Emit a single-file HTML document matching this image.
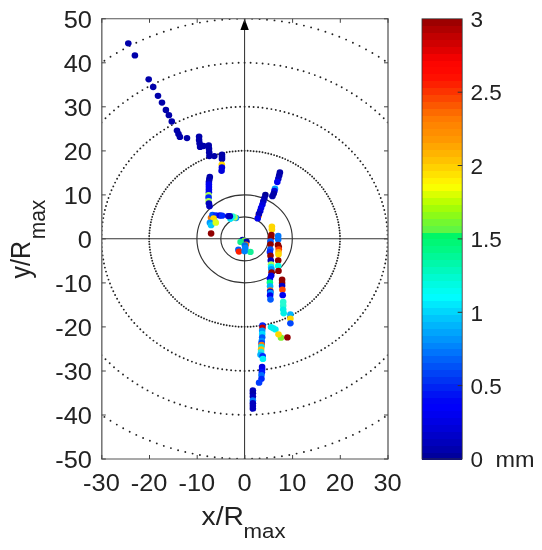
<!DOCTYPE html>
<html><head><meta charset="utf-8"><title>plot</title>
<style>html,body{margin:0;padding:0;background:#fff}svg{display:block}text{font-family:"Liberation Sans",sans-serif;fill:#222}</style></head><body>
<svg width="542" height="550" viewBox="0 0 542 550">
<rect width="542" height="550" fill="#fff"/>
<defs><clipPath id="c"><rect x="101.8" y="18.8" width="286.2" height="440.2"/></clipPath></defs>
<g clip-path="url(#c)" fill="#222">
<circle cx="340.0" cy="238.8" r="0.95"/>
<circle cx="340.0" cy="236.0" r="0.95"/>
<circle cx="339.8" cy="233.3" r="0.95"/>
<circle cx="339.6" cy="230.5" r="0.95"/>
<circle cx="339.2" cy="227.8" r="0.95"/>
<circle cx="338.8" cy="225.0" r="0.95"/>
<circle cx="338.3" cy="222.3" r="0.95"/>
<circle cx="337.7" cy="219.6" r="0.95"/>
<circle cx="337.0" cy="216.9" r="0.95"/>
<circle cx="336.2" cy="214.2" r="0.95"/>
<circle cx="335.3" cy="211.6" r="0.95"/>
<circle cx="334.4" cy="209.0" r="0.95"/>
<circle cx="333.3" cy="206.4" r="0.95"/>
<circle cx="332.2" cy="203.8" r="0.95"/>
<circle cx="330.9" cy="201.3" r="0.95"/>
<circle cx="329.6" cy="198.8" r="0.95"/>
<circle cx="328.2" cy="196.4" r="0.95"/>
<circle cx="326.7" cy="194.0" r="0.95"/>
<circle cx="325.1" cy="191.6" r="0.95"/>
<circle cx="323.5" cy="189.3" r="0.95"/>
<circle cx="321.8" cy="187.1" r="0.95"/>
<circle cx="320.0" cy="184.8" r="0.95"/>
<circle cx="318.1" cy="182.7" r="0.95"/>
<circle cx="316.2" cy="180.6" r="0.95"/>
<circle cx="314.1" cy="178.5" r="0.95"/>
<circle cx="312.1" cy="176.5" r="0.95"/>
<circle cx="309.9" cy="174.6" r="0.95"/>
<circle cx="307.7" cy="172.8" r="0.95"/>
<circle cx="305.4" cy="171.0" r="0.95"/>
<circle cx="303.1" cy="169.2" r="0.95"/>
<circle cx="300.7" cy="167.6" r="0.95"/>
<circle cx="298.2" cy="166.0" r="0.95"/>
<circle cx="295.7" cy="164.5" r="0.95"/>
<circle cx="293.2" cy="163.0" r="0.95"/>
<circle cx="290.6" cy="161.6" r="0.95"/>
<circle cx="287.9" cy="160.4" r="0.95"/>
<circle cx="285.2" cy="159.1" r="0.95"/>
<circle cx="282.5" cy="158.0" r="0.95"/>
<circle cx="279.7" cy="156.9" r="0.95"/>
<circle cx="276.9" cy="156.0" r="0.95"/>
<circle cx="274.1" cy="155.1" r="0.95"/>
<circle cx="271.2" cy="154.3" r="0.95"/>
<circle cx="268.3" cy="153.5" r="0.95"/>
<circle cx="265.4" cy="152.9" r="0.95"/>
<circle cx="262.5" cy="152.3" r="0.95"/>
<circle cx="259.5" cy="151.8" r="0.95"/>
<circle cx="256.6" cy="151.5" r="0.95"/>
<circle cx="253.6" cy="151.2" r="0.95"/>
<circle cx="250.6" cy="150.9" r="0.95"/>
<circle cx="247.6" cy="150.8" r="0.95"/>
<circle cx="244.6" cy="150.8" r="0.95"/>
<circle cx="241.6" cy="150.8" r="0.95"/>
<circle cx="238.6" cy="150.9" r="0.95"/>
<circle cx="235.6" cy="151.2" r="0.95"/>
<circle cx="232.6" cy="151.5" r="0.95"/>
<circle cx="229.7" cy="151.8" r="0.95"/>
<circle cx="226.7" cy="152.3" r="0.95"/>
<circle cx="223.8" cy="152.9" r="0.95"/>
<circle cx="220.9" cy="153.5" r="0.95"/>
<circle cx="218.0" cy="154.3" r="0.95"/>
<circle cx="215.1" cy="155.1" r="0.95"/>
<circle cx="212.3" cy="156.0" r="0.95"/>
<circle cx="209.5" cy="156.9" r="0.95"/>
<circle cx="206.7" cy="158.0" r="0.95"/>
<circle cx="204.0" cy="159.1" r="0.95"/>
<circle cx="201.3" cy="160.4" r="0.95"/>
<circle cx="198.6" cy="161.6" r="0.95"/>
<circle cx="196.0" cy="163.0" r="0.95"/>
<circle cx="193.5" cy="164.5" r="0.95"/>
<circle cx="191.0" cy="166.0" r="0.95"/>
<circle cx="188.5" cy="167.6" r="0.95"/>
<circle cx="186.1" cy="169.2" r="0.95"/>
<circle cx="183.8" cy="171.0" r="0.95"/>
<circle cx="181.5" cy="172.8" r="0.95"/>
<circle cx="179.3" cy="174.6" r="0.95"/>
<circle cx="177.1" cy="176.5" r="0.95"/>
<circle cx="175.1" cy="178.5" r="0.95"/>
<circle cx="173.0" cy="180.6" r="0.95"/>
<circle cx="171.1" cy="182.7" r="0.95"/>
<circle cx="169.2" cy="184.8" r="0.95"/>
<circle cx="167.4" cy="187.1" r="0.95"/>
<circle cx="165.7" cy="189.3" r="0.95"/>
<circle cx="164.1" cy="191.6" r="0.95"/>
<circle cx="162.5" cy="194.0" r="0.95"/>
<circle cx="161.0" cy="196.4" r="0.95"/>
<circle cx="159.6" cy="198.8" r="0.95"/>
<circle cx="158.3" cy="201.3" r="0.95"/>
<circle cx="157.0" cy="203.8" r="0.95"/>
<circle cx="155.9" cy="206.4" r="0.95"/>
<circle cx="154.8" cy="209.0" r="0.95"/>
<circle cx="153.9" cy="211.6" r="0.95"/>
<circle cx="153.0" cy="214.2" r="0.95"/>
<circle cx="152.2" cy="216.9" r="0.95"/>
<circle cx="151.5" cy="219.6" r="0.95"/>
<circle cx="150.9" cy="222.3" r="0.95"/>
<circle cx="150.4" cy="225.0" r="0.95"/>
<circle cx="150.0" cy="227.8" r="0.95"/>
<circle cx="149.6" cy="230.5" r="0.95"/>
<circle cx="149.4" cy="233.3" r="0.95"/>
<circle cx="149.2" cy="236.0" r="0.95"/>
<circle cx="149.2" cy="238.8" r="0.95"/>
<circle cx="149.2" cy="241.6" r="0.95"/>
<circle cx="149.4" cy="244.3" r="0.95"/>
<circle cx="149.6" cy="247.1" r="0.95"/>
<circle cx="150.0" cy="249.8" r="0.95"/>
<circle cx="150.4" cy="252.6" r="0.95"/>
<circle cx="150.9" cy="255.3" r="0.95"/>
<circle cx="151.5" cy="258.0" r="0.95"/>
<circle cx="152.2" cy="260.7" r="0.95"/>
<circle cx="153.0" cy="263.4" r="0.95"/>
<circle cx="153.9" cy="266.0" r="0.95"/>
<circle cx="154.8" cy="268.6" r="0.95"/>
<circle cx="155.9" cy="271.2" r="0.95"/>
<circle cx="157.0" cy="273.8" r="0.95"/>
<circle cx="158.3" cy="276.3" r="0.95"/>
<circle cx="159.6" cy="278.8" r="0.95"/>
<circle cx="161.0" cy="281.2" r="0.95"/>
<circle cx="162.5" cy="283.6" r="0.95"/>
<circle cx="164.1" cy="286.0" r="0.95"/>
<circle cx="165.7" cy="288.3" r="0.95"/>
<circle cx="167.4" cy="290.5" r="0.95"/>
<circle cx="169.2" cy="292.8" r="0.95"/>
<circle cx="171.1" cy="294.9" r="0.95"/>
<circle cx="173.0" cy="297.0" r="0.95"/>
<circle cx="175.1" cy="299.1" r="0.95"/>
<circle cx="177.1" cy="301.1" r="0.95"/>
<circle cx="179.3" cy="303.0" r="0.95"/>
<circle cx="181.5" cy="304.8" r="0.95"/>
<circle cx="183.8" cy="306.6" r="0.95"/>
<circle cx="186.1" cy="308.4" r="0.95"/>
<circle cx="188.5" cy="310.0" r="0.95"/>
<circle cx="191.0" cy="311.6" r="0.95"/>
<circle cx="193.5" cy="313.1" r="0.95"/>
<circle cx="196.0" cy="314.6" r="0.95"/>
<circle cx="198.6" cy="316.0" r="0.95"/>
<circle cx="201.3" cy="317.2" r="0.95"/>
<circle cx="204.0" cy="318.5" r="0.95"/>
<circle cx="206.7" cy="319.6" r="0.95"/>
<circle cx="209.5" cy="320.7" r="0.95"/>
<circle cx="212.3" cy="321.6" r="0.95"/>
<circle cx="215.1" cy="322.5" r="0.95"/>
<circle cx="218.0" cy="323.3" r="0.95"/>
<circle cx="220.9" cy="324.1" r="0.95"/>
<circle cx="223.8" cy="324.7" r="0.95"/>
<circle cx="226.7" cy="325.3" r="0.95"/>
<circle cx="229.7" cy="325.8" r="0.95"/>
<circle cx="232.6" cy="326.1" r="0.95"/>
<circle cx="235.6" cy="326.4" r="0.95"/>
<circle cx="238.6" cy="326.7" r="0.95"/>
<circle cx="241.6" cy="326.8" r="0.95"/>
<circle cx="244.6" cy="326.8" r="0.95"/>
<circle cx="247.6" cy="326.8" r="0.95"/>
<circle cx="250.6" cy="326.7" r="0.95"/>
<circle cx="253.6" cy="326.4" r="0.95"/>
<circle cx="256.6" cy="326.1" r="0.95"/>
<circle cx="259.5" cy="325.8" r="0.95"/>
<circle cx="262.5" cy="325.3" r="0.95"/>
<circle cx="265.4" cy="324.7" r="0.95"/>
<circle cx="268.3" cy="324.1" r="0.95"/>
<circle cx="271.2" cy="323.3" r="0.95"/>
<circle cx="274.1" cy="322.5" r="0.95"/>
<circle cx="276.9" cy="321.6" r="0.95"/>
<circle cx="279.7" cy="320.7" r="0.95"/>
<circle cx="282.5" cy="319.6" r="0.95"/>
<circle cx="285.2" cy="318.5" r="0.95"/>
<circle cx="287.9" cy="317.2" r="0.95"/>
<circle cx="290.6" cy="316.0" r="0.95"/>
<circle cx="293.2" cy="314.6" r="0.95"/>
<circle cx="295.7" cy="313.1" r="0.95"/>
<circle cx="298.2" cy="311.6" r="0.95"/>
<circle cx="300.7" cy="310.0" r="0.95"/>
<circle cx="303.1" cy="308.4" r="0.95"/>
<circle cx="305.4" cy="306.6" r="0.95"/>
<circle cx="307.7" cy="304.8" r="0.95"/>
<circle cx="309.9" cy="303.0" r="0.95"/>
<circle cx="312.1" cy="301.1" r="0.95"/>
<circle cx="314.1" cy="299.1" r="0.95"/>
<circle cx="316.2" cy="297.0" r="0.95"/>
<circle cx="318.1" cy="294.9" r="0.95"/>
<circle cx="320.0" cy="292.8" r="0.95"/>
<circle cx="321.8" cy="290.5" r="0.95"/>
<circle cx="323.5" cy="288.3" r="0.95"/>
<circle cx="325.1" cy="286.0" r="0.95"/>
<circle cx="326.7" cy="283.6" r="0.95"/>
<circle cx="328.2" cy="281.2" r="0.95"/>
<circle cx="329.6" cy="278.8" r="0.95"/>
<circle cx="330.9" cy="276.3" r="0.95"/>
<circle cx="332.2" cy="273.8" r="0.95"/>
<circle cx="333.3" cy="271.2" r="0.95"/>
<circle cx="334.4" cy="268.6" r="0.95"/>
<circle cx="335.3" cy="266.0" r="0.95"/>
<circle cx="336.2" cy="263.4" r="0.95"/>
<circle cx="337.0" cy="260.7" r="0.95"/>
<circle cx="337.7" cy="258.0" r="0.95"/>
<circle cx="338.3" cy="255.3" r="0.95"/>
<circle cx="338.8" cy="252.6" r="0.95"/>
<circle cx="339.2" cy="249.8" r="0.95"/>
<circle cx="339.6" cy="247.1" r="0.95"/>
<circle cx="339.8" cy="244.3" r="0.95"/>
<circle cx="340.0" cy="241.6" r="0.95"/>
<circle cx="387.7" cy="238.8" r="0.95"/>
<circle cx="387.6" cy="234.7" r="0.95"/>
<circle cx="387.4" cy="230.5" r="0.95"/>
<circle cx="387.1" cy="226.4" r="0.95"/>
<circle cx="386.6" cy="222.2" r="0.95"/>
<circle cx="385.9" cy="218.1" r="0.95"/>
<circle cx="385.2" cy="214.1" r="0.95"/>
<circle cx="384.3" cy="210.0" r="0.95"/>
<circle cx="383.2" cy="206.0" r="0.95"/>
<circle cx="382.0" cy="202.0" r="0.95"/>
<circle cx="380.7" cy="198.0" r="0.95"/>
<circle cx="379.2" cy="194.1" r="0.95"/>
<circle cx="377.7" cy="190.2" r="0.95"/>
<circle cx="375.9" cy="186.4" r="0.95"/>
<circle cx="374.1" cy="182.6" r="0.95"/>
<circle cx="372.1" cy="178.8" r="0.95"/>
<circle cx="370.0" cy="175.2" r="0.95"/>
<circle cx="367.8" cy="171.6" r="0.95"/>
<circle cx="365.4" cy="168.0" r="0.95"/>
<circle cx="363.0" cy="164.6" r="0.95"/>
<circle cx="360.4" cy="161.2" r="0.95"/>
<circle cx="357.7" cy="157.9" r="0.95"/>
<circle cx="354.9" cy="154.6" r="0.95"/>
<circle cx="351.9" cy="151.5" r="0.95"/>
<circle cx="348.9" cy="148.4" r="0.95"/>
<circle cx="345.8" cy="145.4" r="0.95"/>
<circle cx="342.6" cy="142.5" r="0.95"/>
<circle cx="339.2" cy="139.7" r="0.95"/>
<circle cx="335.8" cy="137.0" r="0.95"/>
<circle cx="332.3" cy="134.5" r="0.95"/>
<circle cx="328.7" cy="132.0" r="0.95"/>
<circle cx="325.0" cy="129.6" r="0.95"/>
<circle cx="321.3" cy="127.3" r="0.95"/>
<circle cx="317.4" cy="125.1" r="0.95"/>
<circle cx="313.5" cy="123.1" r="0.95"/>
<circle cx="309.6" cy="121.1" r="0.95"/>
<circle cx="305.5" cy="119.3" r="0.95"/>
<circle cx="301.4" cy="117.6" r="0.95"/>
<circle cx="297.3" cy="116.0" r="0.95"/>
<circle cx="293.1" cy="114.5" r="0.95"/>
<circle cx="288.8" cy="113.2" r="0.95"/>
<circle cx="284.5" cy="112.0" r="0.95"/>
<circle cx="280.2" cy="110.9" r="0.95"/>
<circle cx="275.8" cy="109.9" r="0.95"/>
<circle cx="271.4" cy="109.1" r="0.95"/>
<circle cx="267.0" cy="108.4" r="0.95"/>
<circle cx="262.5" cy="107.8" r="0.95"/>
<circle cx="258.1" cy="107.3" r="0.95"/>
<circle cx="253.6" cy="107.0" r="0.95"/>
<circle cx="249.1" cy="106.8" r="0.95"/>
<circle cx="244.6" cy="106.7" r="0.95"/>
<circle cx="240.1" cy="106.8" r="0.95"/>
<circle cx="235.6" cy="107.0" r="0.95"/>
<circle cx="231.1" cy="107.3" r="0.95"/>
<circle cx="226.7" cy="107.8" r="0.95"/>
<circle cx="222.2" cy="108.4" r="0.95"/>
<circle cx="217.8" cy="109.1" r="0.95"/>
<circle cx="213.4" cy="109.9" r="0.95"/>
<circle cx="209.0" cy="110.9" r="0.95"/>
<circle cx="204.7" cy="112.0" r="0.95"/>
<circle cx="200.4" cy="113.2" r="0.95"/>
<circle cx="196.1" cy="114.5" r="0.95"/>
<circle cx="191.9" cy="116.0" r="0.95"/>
<circle cx="187.8" cy="117.6" r="0.95"/>
<circle cx="183.7" cy="119.3" r="0.95"/>
<circle cx="179.6" cy="121.1" r="0.95"/>
<circle cx="175.7" cy="123.1" r="0.95"/>
<circle cx="171.8" cy="125.1" r="0.95"/>
<circle cx="167.9" cy="127.3" r="0.95"/>
<circle cx="164.2" cy="129.6" r="0.95"/>
<circle cx="160.5" cy="132.0" r="0.95"/>
<circle cx="156.9" cy="134.5" r="0.95"/>
<circle cx="153.4" cy="137.0" r="0.95"/>
<circle cx="150.0" cy="139.7" r="0.95"/>
<circle cx="146.6" cy="142.5" r="0.95"/>
<circle cx="143.4" cy="145.4" r="0.95"/>
<circle cx="140.3" cy="148.4" r="0.95"/>
<circle cx="137.3" cy="151.5" r="0.95"/>
<circle cx="134.3" cy="154.6" r="0.95"/>
<circle cx="131.5" cy="157.9" r="0.95"/>
<circle cx="128.8" cy="161.2" r="0.95"/>
<circle cx="126.2" cy="164.6" r="0.95"/>
<circle cx="123.8" cy="168.0" r="0.95"/>
<circle cx="121.4" cy="171.6" r="0.95"/>
<circle cx="119.2" cy="175.2" r="0.95"/>
<circle cx="117.1" cy="178.8" r="0.95"/>
<circle cx="115.1" cy="182.6" r="0.95"/>
<circle cx="113.3" cy="186.4" r="0.95"/>
<circle cx="111.5" cy="190.2" r="0.95"/>
<circle cx="110.0" cy="194.1" r="0.95"/>
<circle cx="108.5" cy="198.0" r="0.95"/>
<circle cx="107.2" cy="202.0" r="0.95"/>
<circle cx="106.0" cy="206.0" r="0.95"/>
<circle cx="104.9" cy="210.0" r="0.95"/>
<circle cx="104.0" cy="214.1" r="0.95"/>
<circle cx="103.3" cy="218.1" r="0.95"/>
<circle cx="102.6" cy="222.2" r="0.95"/>
<circle cx="102.1" cy="226.4" r="0.95"/>
<circle cx="101.8" cy="230.5" r="0.95"/>
<circle cx="101.6" cy="234.7" r="0.95"/>
<circle cx="101.5" cy="238.8" r="0.95"/>
<circle cx="101.6" cy="242.9" r="0.95"/>
<circle cx="101.8" cy="247.1" r="0.95"/>
<circle cx="102.1" cy="251.2" r="0.95"/>
<circle cx="102.6" cy="255.4" r="0.95"/>
<circle cx="103.3" cy="259.5" r="0.95"/>
<circle cx="104.0" cy="263.5" r="0.95"/>
<circle cx="104.9" cy="267.6" r="0.95"/>
<circle cx="106.0" cy="271.6" r="0.95"/>
<circle cx="107.2" cy="275.6" r="0.95"/>
<circle cx="108.5" cy="279.6" r="0.95"/>
<circle cx="110.0" cy="283.5" r="0.95"/>
<circle cx="111.5" cy="287.4" r="0.95"/>
<circle cx="113.3" cy="291.2" r="0.95"/>
<circle cx="115.1" cy="295.0" r="0.95"/>
<circle cx="117.1" cy="298.8" r="0.95"/>
<circle cx="119.2" cy="302.4" r="0.95"/>
<circle cx="121.4" cy="306.0" r="0.95"/>
<circle cx="123.8" cy="309.6" r="0.95"/>
<circle cx="126.2" cy="313.0" r="0.95"/>
<circle cx="128.8" cy="316.4" r="0.95"/>
<circle cx="131.5" cy="319.7" r="0.95"/>
<circle cx="134.3" cy="323.0" r="0.95"/>
<circle cx="137.3" cy="326.1" r="0.95"/>
<circle cx="140.3" cy="329.2" r="0.95"/>
<circle cx="143.4" cy="332.2" r="0.95"/>
<circle cx="146.6" cy="335.1" r="0.95"/>
<circle cx="150.0" cy="337.9" r="0.95"/>
<circle cx="153.4" cy="340.6" r="0.95"/>
<circle cx="156.9" cy="343.1" r="0.95"/>
<circle cx="160.5" cy="345.6" r="0.95"/>
<circle cx="164.2" cy="348.0" r="0.95"/>
<circle cx="167.9" cy="350.3" r="0.95"/>
<circle cx="171.8" cy="352.5" r="0.95"/>
<circle cx="175.7" cy="354.5" r="0.95"/>
<circle cx="179.6" cy="356.5" r="0.95"/>
<circle cx="183.7" cy="358.3" r="0.95"/>
<circle cx="187.8" cy="360.0" r="0.95"/>
<circle cx="191.9" cy="361.6" r="0.95"/>
<circle cx="196.1" cy="363.1" r="0.95"/>
<circle cx="200.4" cy="364.4" r="0.95"/>
<circle cx="204.7" cy="365.6" r="0.95"/>
<circle cx="209.0" cy="366.7" r="0.95"/>
<circle cx="213.4" cy="367.7" r="0.95"/>
<circle cx="217.8" cy="368.5" r="0.95"/>
<circle cx="222.2" cy="369.2" r="0.95"/>
<circle cx="226.7" cy="369.8" r="0.95"/>
<circle cx="231.1" cy="370.3" r="0.95"/>
<circle cx="235.6" cy="370.6" r="0.95"/>
<circle cx="240.1" cy="370.8" r="0.95"/>
<circle cx="244.6" cy="370.9" r="0.95"/>
<circle cx="249.1" cy="370.8" r="0.95"/>
<circle cx="253.6" cy="370.6" r="0.95"/>
<circle cx="258.1" cy="370.3" r="0.95"/>
<circle cx="262.5" cy="369.8" r="0.95"/>
<circle cx="267.0" cy="369.2" r="0.95"/>
<circle cx="271.4" cy="368.5" r="0.95"/>
<circle cx="275.8" cy="367.7" r="0.95"/>
<circle cx="280.2" cy="366.7" r="0.95"/>
<circle cx="284.5" cy="365.6" r="0.95"/>
<circle cx="288.8" cy="364.4" r="0.95"/>
<circle cx="293.1" cy="363.1" r="0.95"/>
<circle cx="297.3" cy="361.6" r="0.95"/>
<circle cx="301.4" cy="360.0" r="0.95"/>
<circle cx="305.5" cy="358.3" r="0.95"/>
<circle cx="309.6" cy="356.5" r="0.95"/>
<circle cx="313.5" cy="354.5" r="0.95"/>
<circle cx="317.4" cy="352.5" r="0.95"/>
<circle cx="321.3" cy="350.3" r="0.95"/>
<circle cx="325.0" cy="348.0" r="0.95"/>
<circle cx="328.7" cy="345.6" r="0.95"/>
<circle cx="332.3" cy="343.1" r="0.95"/>
<circle cx="335.8" cy="340.6" r="0.95"/>
<circle cx="339.2" cy="337.9" r="0.95"/>
<circle cx="342.6" cy="335.1" r="0.95"/>
<circle cx="345.8" cy="332.2" r="0.95"/>
<circle cx="348.9" cy="329.2" r="0.95"/>
<circle cx="351.9" cy="326.1" r="0.95"/>
<circle cx="354.9" cy="323.0" r="0.95"/>
<circle cx="357.7" cy="319.7" r="0.95"/>
<circle cx="360.4" cy="316.4" r="0.95"/>
<circle cx="363.0" cy="313.0" r="0.95"/>
<circle cx="365.4" cy="309.6" r="0.95"/>
<circle cx="367.8" cy="306.0" r="0.95"/>
<circle cx="370.0" cy="302.4" r="0.95"/>
<circle cx="372.1" cy="298.8" r="0.95"/>
<circle cx="374.1" cy="295.0" r="0.95"/>
<circle cx="375.9" cy="291.2" r="0.95"/>
<circle cx="377.7" cy="287.4" r="0.95"/>
<circle cx="379.2" cy="283.5" r="0.95"/>
<circle cx="380.7" cy="279.6" r="0.95"/>
<circle cx="382.0" cy="275.6" r="0.95"/>
<circle cx="383.2" cy="271.6" r="0.95"/>
<circle cx="384.3" cy="267.6" r="0.95"/>
<circle cx="385.2" cy="263.5" r="0.95"/>
<circle cx="385.9" cy="259.5" r="0.95"/>
<circle cx="386.6" cy="255.4" r="0.95"/>
<circle cx="387.1" cy="251.2" r="0.95"/>
<circle cx="387.4" cy="247.1" r="0.95"/>
<circle cx="387.6" cy="242.9" r="0.95"/>
<circle cx="387.7" cy="122.4" r="0.95"/>
<circle cx="383.7" cy="118.3" r="0.95"/>
<circle cx="379.5" cy="114.3" r="0.95"/>
<circle cx="375.2" cy="110.4" r="0.95"/>
<circle cx="370.8" cy="106.7" r="0.95"/>
<circle cx="366.2" cy="103.1" r="0.95"/>
<circle cx="361.5" cy="99.7" r="0.95"/>
<circle cx="356.7" cy="96.3" r="0.95"/>
<circle cx="351.8" cy="93.2" r="0.95"/>
<circle cx="346.8" cy="90.1" r="0.95"/>
<circle cx="341.7" cy="87.2" r="0.95"/>
<circle cx="336.5" cy="84.5" r="0.95"/>
<circle cx="331.2" cy="81.9" r="0.95"/>
<circle cx="325.8" cy="79.5" r="0.95"/>
<circle cx="320.4" cy="77.2" r="0.95"/>
<circle cx="314.8" cy="75.1" r="0.95"/>
<circle cx="309.2" cy="73.1" r="0.95"/>
<circle cx="303.6" cy="71.3" r="0.95"/>
<circle cx="297.8" cy="69.7" r="0.95"/>
<circle cx="292.1" cy="68.3" r="0.95"/>
<circle cx="286.2" cy="67.0" r="0.95"/>
<circle cx="280.4" cy="65.8" r="0.95"/>
<circle cx="274.4" cy="64.9" r="0.95"/>
<circle cx="268.5" cy="64.1" r="0.95"/>
<circle cx="262.6" cy="63.5" r="0.95"/>
<circle cx="256.6" cy="63.1" r="0.95"/>
<circle cx="250.6" cy="62.8" r="0.95"/>
<circle cx="244.6" cy="62.7" r="0.95"/>
<circle cx="238.6" cy="62.8" r="0.95"/>
<circle cx="232.6" cy="63.1" r="0.95"/>
<circle cx="226.6" cy="63.5" r="0.95"/>
<circle cx="220.7" cy="64.1" r="0.95"/>
<circle cx="214.8" cy="64.9" r="0.95"/>
<circle cx="208.8" cy="65.8" r="0.95"/>
<circle cx="203.0" cy="67.0" r="0.95"/>
<circle cx="197.1" cy="68.3" r="0.95"/>
<circle cx="191.4" cy="69.7" r="0.95"/>
<circle cx="185.6" cy="71.3" r="0.95"/>
<circle cx="180.0" cy="73.1" r="0.95"/>
<circle cx="174.4" cy="75.1" r="0.95"/>
<circle cx="168.8" cy="77.2" r="0.95"/>
<circle cx="163.4" cy="79.5" r="0.95"/>
<circle cx="158.0" cy="81.9" r="0.95"/>
<circle cx="152.7" cy="84.5" r="0.95"/>
<circle cx="147.5" cy="87.2" r="0.95"/>
<circle cx="142.4" cy="90.1" r="0.95"/>
<circle cx="137.4" cy="93.2" r="0.95"/>
<circle cx="132.5" cy="96.3" r="0.95"/>
<circle cx="127.7" cy="99.7" r="0.95"/>
<circle cx="123.0" cy="103.1" r="0.95"/>
<circle cx="118.4" cy="106.7" r="0.95"/>
<circle cx="114.0" cy="110.4" r="0.95"/>
<circle cx="109.7" cy="114.3" r="0.95"/>
<circle cx="105.5" cy="118.3" r="0.95"/>
<circle cx="101.5" cy="122.4" r="0.95"/>
<circle cx="101.5" cy="355.2" r="0.95"/>
<circle cx="105.5" cy="359.3" r="0.95"/>
<circle cx="109.7" cy="363.3" r="0.95"/>
<circle cx="114.0" cy="367.2" r="0.95"/>
<circle cx="118.4" cy="370.9" r="0.95"/>
<circle cx="123.0" cy="374.5" r="0.95"/>
<circle cx="127.7" cy="377.9" r="0.95"/>
<circle cx="132.5" cy="381.3" r="0.95"/>
<circle cx="137.4" cy="384.4" r="0.95"/>
<circle cx="142.4" cy="387.5" r="0.95"/>
<circle cx="147.5" cy="390.4" r="0.95"/>
<circle cx="152.7" cy="393.1" r="0.95"/>
<circle cx="158.0" cy="395.7" r="0.95"/>
<circle cx="163.4" cy="398.1" r="0.95"/>
<circle cx="168.8" cy="400.4" r="0.95"/>
<circle cx="174.4" cy="402.5" r="0.95"/>
<circle cx="180.0" cy="404.5" r="0.95"/>
<circle cx="185.6" cy="406.3" r="0.95"/>
<circle cx="191.4" cy="407.9" r="0.95"/>
<circle cx="197.1" cy="409.3" r="0.95"/>
<circle cx="203.0" cy="410.6" r="0.95"/>
<circle cx="208.8" cy="411.8" r="0.95"/>
<circle cx="214.8" cy="412.7" r="0.95"/>
<circle cx="220.7" cy="413.5" r="0.95"/>
<circle cx="226.6" cy="414.1" r="0.95"/>
<circle cx="232.6" cy="414.5" r="0.95"/>
<circle cx="238.6" cy="414.8" r="0.95"/>
<circle cx="244.6" cy="414.9" r="0.95"/>
<circle cx="250.6" cy="414.8" r="0.95"/>
<circle cx="256.6" cy="414.5" r="0.95"/>
<circle cx="262.6" cy="414.1" r="0.95"/>
<circle cx="268.5" cy="413.5" r="0.95"/>
<circle cx="274.4" cy="412.7" r="0.95"/>
<circle cx="280.4" cy="411.8" r="0.95"/>
<circle cx="286.2" cy="410.6" r="0.95"/>
<circle cx="292.1" cy="409.3" r="0.95"/>
<circle cx="297.8" cy="407.9" r="0.95"/>
<circle cx="303.6" cy="406.3" r="0.95"/>
<circle cx="309.2" cy="404.5" r="0.95"/>
<circle cx="314.8" cy="402.5" r="0.95"/>
<circle cx="320.4" cy="400.4" r="0.95"/>
<circle cx="325.8" cy="398.1" r="0.95"/>
<circle cx="331.2" cy="395.7" r="0.95"/>
<circle cx="336.5" cy="393.1" r="0.95"/>
<circle cx="341.7" cy="390.4" r="0.95"/>
<circle cx="346.8" cy="387.5" r="0.95"/>
<circle cx="351.8" cy="384.4" r="0.95"/>
<circle cx="356.7" cy="381.3" r="0.95"/>
<circle cx="361.5" cy="377.9" r="0.95"/>
<circle cx="366.2" cy="374.5" r="0.95"/>
<circle cx="370.8" cy="370.9" r="0.95"/>
<circle cx="375.2" cy="367.2" r="0.95"/>
<circle cx="379.5" cy="363.3" r="0.95"/>
<circle cx="383.7" cy="359.3" r="0.95"/>
<circle cx="387.7" cy="355.2" r="0.95"/>
<circle cx="384.8" cy="60.7" r="0.95"/>
<circle cx="378.7" cy="56.8" r="0.95"/>
<circle cx="372.4" cy="53.0" r="0.95"/>
<circle cx="366.0" cy="49.4" r="0.95"/>
<circle cx="359.5" cy="45.9" r="0.95"/>
<circle cx="352.9" cy="42.7" r="0.95"/>
<circle cx="346.1" cy="39.6" r="0.95"/>
<circle cx="339.3" cy="36.8" r="0.95"/>
<circle cx="332.4" cy="34.2" r="0.95"/>
<circle cx="325.4" cy="31.7" r="0.95"/>
<circle cx="318.3" cy="29.5" r="0.95"/>
<circle cx="311.1" cy="27.4" r="0.95"/>
<circle cx="303.9" cy="25.6" r="0.95"/>
<circle cx="296.6" cy="24.0" r="0.95"/>
<circle cx="289.3" cy="22.6" r="0.95"/>
<circle cx="281.9" cy="21.4" r="0.95"/>
<circle cx="274.5" cy="20.4" r="0.95"/>
<circle cx="267.0" cy="19.7" r="0.95"/>
<circle cx="259.6" cy="19.1" r="0.95"/>
<circle cx="252.1" cy="18.8" r="0.95"/>
<circle cx="244.6" cy="18.7" r="0.95"/>
<circle cx="237.1" cy="18.8" r="0.95"/>
<circle cx="229.6" cy="19.1" r="0.95"/>
<circle cx="222.2" cy="19.7" r="0.95"/>
<circle cx="214.7" cy="20.4" r="0.95"/>
<circle cx="207.3" cy="21.4" r="0.95"/>
<circle cx="199.9" cy="22.6" r="0.95"/>
<circle cx="192.6" cy="24.0" r="0.95"/>
<circle cx="185.3" cy="25.6" r="0.95"/>
<circle cx="178.1" cy="27.4" r="0.95"/>
<circle cx="170.9" cy="29.5" r="0.95"/>
<circle cx="163.8" cy="31.7" r="0.95"/>
<circle cx="156.8" cy="34.2" r="0.95"/>
<circle cx="149.9" cy="36.8" r="0.95"/>
<circle cx="143.1" cy="39.6" r="0.95"/>
<circle cx="136.3" cy="42.7" r="0.95"/>
<circle cx="129.7" cy="45.9" r="0.95"/>
<circle cx="123.2" cy="49.4" r="0.95"/>
<circle cx="116.8" cy="53.0" r="0.95"/>
<circle cx="110.5" cy="56.8" r="0.95"/>
<circle cx="104.4" cy="60.7" r="0.95"/>
<circle cx="104.4" cy="416.9" r="0.95"/>
<circle cx="110.5" cy="420.8" r="0.95"/>
<circle cx="116.8" cy="424.6" r="0.95"/>
<circle cx="123.2" cy="428.2" r="0.95"/>
<circle cx="129.7" cy="431.7" r="0.95"/>
<circle cx="136.3" cy="434.9" r="0.95"/>
<circle cx="143.1" cy="438.0" r="0.95"/>
<circle cx="149.9" cy="440.8" r="0.95"/>
<circle cx="156.8" cy="443.4" r="0.95"/>
<circle cx="163.8" cy="445.9" r="0.95"/>
<circle cx="170.9" cy="448.1" r="0.95"/>
<circle cx="178.1" cy="450.2" r="0.95"/>
<circle cx="185.3" cy="452.0" r="0.95"/>
<circle cx="192.6" cy="453.6" r="0.95"/>
<circle cx="199.9" cy="455.0" r="0.95"/>
<circle cx="207.3" cy="456.2" r="0.95"/>
<circle cx="214.7" cy="457.2" r="0.95"/>
<circle cx="222.2" cy="457.9" r="0.95"/>
<circle cx="229.6" cy="458.5" r="0.95"/>
<circle cx="237.1" cy="458.8" r="0.95"/>
<circle cx="244.6" cy="458.9" r="0.95"/>
<circle cx="252.1" cy="458.8" r="0.95"/>
<circle cx="259.6" cy="458.5" r="0.95"/>
<circle cx="267.0" cy="457.9" r="0.95"/>
<circle cx="274.5" cy="457.2" r="0.95"/>
<circle cx="281.9" cy="456.2" r="0.95"/>
<circle cx="289.3" cy="455.0" r="0.95"/>
<circle cx="296.6" cy="453.6" r="0.95"/>
<circle cx="303.9" cy="452.0" r="0.95"/>
<circle cx="311.1" cy="450.2" r="0.95"/>
<circle cx="318.3" cy="448.1" r="0.95"/>
<circle cx="325.4" cy="445.9" r="0.95"/>
<circle cx="332.4" cy="443.4" r="0.95"/>
<circle cx="339.3" cy="440.8" r="0.95"/>
<circle cx="346.1" cy="438.0" r="0.95"/>
<circle cx="352.9" cy="434.9" r="0.95"/>
<circle cx="359.5" cy="431.7" r="0.95"/>
<circle cx="366.0" cy="428.2" r="0.95"/>
<circle cx="372.4" cy="424.6" r="0.95"/>
<circle cx="378.7" cy="420.8" r="0.95"/>
<circle cx="384.8" cy="416.9" r="0.95"/>
</g>
<ellipse cx="244.6" cy="238.8" rx="23.8" ry="22.0" fill="none" stroke="#333" stroke-width="1.15"/>
<ellipse cx="244.6" cy="238.8" rx="47.7" ry="44.0" fill="none" stroke="#333" stroke-width="1.15"/>
<line x1="101.8" y1="238.8" x2="388.0" y2="238.8" stroke="#333" stroke-width="1.1"/>
<line x1="244.6" y1="26.8" x2="244.6" y2="459.0" stroke="#2a2a2a" stroke-width="1.0"/>
<polygon points="244.6,18.8 240.4,30 248.79999999999998,30" fill="#000"/>
<g>
<ellipse cx="128.3" cy="43.3" rx="3.3" ry="3.15" fill="rgb(0,0,170)"/>
<ellipse cx="134.9" cy="55.4" rx="3.3" ry="3.15" fill="rgb(0,0,170)"/>
<ellipse cx="148.7" cy="79.3" rx="3.3" ry="3.15" fill="rgb(0,0,170)"/>
<ellipse cx="153.2" cy="87.0" rx="3.3" ry="3.15" fill="rgb(0,0,170)"/>
<ellipse cx="158.0" cy="95.8" rx="3.3" ry="3.15" fill="rgb(0,0,170)"/>
<ellipse cx="162.0" cy="102.6" rx="3.3" ry="3.15" fill="rgb(0,0,170)"/>
<ellipse cx="165.9" cy="110.0" rx="3.3" ry="3.15" fill="rgb(0,0,170)"/>
<ellipse cx="168.9" cy="115.2" rx="3.3" ry="3.15" fill="rgb(0,0,170)"/>
<ellipse cx="171.8" cy="121.4" rx="3.3" ry="3.15" fill="rgb(0,0,170)"/>
<ellipse cx="177.0" cy="130.6" rx="3.3" ry="3.15" fill="rgb(0,0,170)"/>
<ellipse cx="178.5" cy="134.0" rx="3.3" ry="3.15" fill="rgb(0,0,170)"/>
<ellipse cx="179.9" cy="136.9" rx="3.3" ry="3.15" fill="rgb(0,0,170)"/>
<ellipse cx="187.0" cy="138.1" rx="3.3" ry="3.15" fill="rgb(0,0,170)"/>
<ellipse cx="199.1" cy="136.6" rx="3.3" ry="3.15" fill="rgb(0,0,170)"/>
<ellipse cx="199.1" cy="139.9" rx="3.3" ry="3.15" fill="rgb(0,0,170)"/>
<ellipse cx="199.6" cy="143.5" rx="3.3" ry="3.15" fill="rgb(0,0,170)"/>
<ellipse cx="200.1" cy="146.9" rx="3.3" ry="3.15" fill="rgb(0,0,170)"/>
<ellipse cx="203.5" cy="146.0" rx="3.3" ry="3.15" fill="rgb(0,0,170)"/>
<ellipse cx="208.7" cy="145.5" rx="3.3" ry="3.15" fill="rgb(0,0,170)"/>
<ellipse cx="209.0" cy="148.7" rx="3.3" ry="3.15" fill="rgb(0,0,170)"/>
<ellipse cx="209.2" cy="152.4" rx="3.3" ry="3.15" fill="rgb(0,0,170)"/>
<ellipse cx="209.4" cy="156.1" rx="3.3" ry="3.15" fill="rgb(0,0,170)"/>
<ellipse cx="214.3" cy="156.1" rx="3.3" ry="3.15" fill="rgb(0,0,170)"/>
<ellipse cx="222.0" cy="154.6" rx="3.3" ry="3.15" fill="rgb(0,0,170)"/>
<ellipse cx="222.0" cy="156.8" rx="3.3" ry="3.15" fill="rgb(0,0,170)"/>
<ellipse cx="222.0" cy="159.0" rx="3.3" ry="3.15" fill="rgb(0,0,170)"/>
<ellipse cx="221.8" cy="164.6" rx="3.3" ry="3.15" fill="rgb(255,215,0)"/>
<ellipse cx="221.9" cy="167.4" rx="3.3" ry="3.15" fill="rgb(0,0,220)"/>
<ellipse cx="221.6" cy="170.8" rx="3.3" ry="3.15" fill="rgb(0,0,220)"/>
<ellipse cx="209.8" cy="177.0" rx="3.3" ry="3.15" fill="rgb(0,0,170)"/>
<ellipse cx="209.3" cy="179.4" rx="3.3" ry="3.15" fill="rgb(0,0,170)"/>
<ellipse cx="208.9" cy="182.0" rx="3.3" ry="3.15" fill="rgb(0,0,190)"/>
<ellipse cx="208.9" cy="184.5" rx="3.3" ry="3.15" fill="rgb(0,0,240)"/>
<ellipse cx="208.9" cy="187.1" rx="3.3" ry="3.15" fill="rgb(0,0,240)"/>
<ellipse cx="208.9" cy="189.7" rx="3.3" ry="3.15" fill="rgb(0,0,240)"/>
<ellipse cx="208.9" cy="192.3" rx="3.3" ry="3.15" fill="rgb(0,0,240)"/>
<ellipse cx="208.6" cy="195.1" rx="3.3" ry="3.15" fill="rgb(170,255,80)"/>
<ellipse cx="208.6" cy="197.5" rx="3.3" ry="3.15" fill="rgb(0,40,255)"/>
<ellipse cx="208.6" cy="201.1" rx="3.3" ry="3.15" fill="rgb(170,255,80)"/>
<ellipse cx="208.9" cy="203.3" rx="3.3" ry="3.15" fill="rgb(0,0,190)"/>
<ellipse cx="209.5" cy="206.2" rx="3.3" ry="3.15" fill="rgb(0,0,190)"/>
<ellipse cx="211.0" cy="217.8" rx="3.3" ry="3.15" fill="rgb(255,120,0)"/>
<ellipse cx="212.5" cy="214.9" rx="3.3" ry="3.15" fill="rgb(0,90,255)"/>
<ellipse cx="216.0" cy="215.3" rx="3.3" ry="3.15" fill="rgb(0,40,255)"/>
<ellipse cx="219.9" cy="215.5" rx="3.3" ry="3.15" fill="rgb(0,0,240)"/>
<ellipse cx="222.1" cy="215.7" rx="3.3" ry="3.15" fill="rgb(0,40,255)"/>
<ellipse cx="236.0" cy="218.0" rx="3.3" ry="3.15" fill="rgb(0,150,255)"/>
<ellipse cx="234.6" cy="217.4" rx="3.3" ry="3.15" fill="rgb(170,255,80)"/>
<ellipse cx="232.6" cy="216.4" rx="3.3" ry="3.15" fill="rgb(40,250,210)"/>
<ellipse cx="230.4" cy="218.8" rx="3.3" ry="3.15" fill="rgb(0,230,255)"/>
<ellipse cx="228.2" cy="216.1" rx="3.3" ry="3.15" fill="rgb(0,0,220)"/>
<ellipse cx="229.8" cy="216.2" rx="3.3" ry="3.15" fill="rgb(0,0,190)"/>
<ellipse cx="214.4" cy="220.8" rx="3.3" ry="3.15" fill="rgb(40,250,210)"/>
<ellipse cx="213.6" cy="218.4" rx="3.3" ry="3.15" fill="rgb(255,215,0)"/>
<ellipse cx="209.9" cy="222.7" rx="3.3" ry="3.15" fill="rgb(0,150,255)"/>
<ellipse cx="211.1" cy="225.2" rx="3.3" ry="3.15" fill="rgb(0,200,255)"/>
<ellipse cx="215.8" cy="222.7" rx="3.3" ry="3.15" fill="rgb(220,255,30)"/>
<ellipse cx="211.1" cy="233.5" rx="3.3" ry="3.15" fill="rgb(145,0,0)"/>
<ellipse cx="242.6" cy="240.0" rx="3.3" ry="3.15" fill="rgb(0,0,170)"/>
<ellipse cx="244.4" cy="240.7" rx="3.3" ry="3.15" fill="rgb(120,225,70)"/>
<ellipse cx="246.5" cy="241.6" rx="3.3" ry="3.15" fill="rgb(0,0,170)"/>
<ellipse cx="245.9" cy="244.6" rx="3.3" ry="3.15" fill="rgb(255,120,0)"/>
<ellipse cx="240.6" cy="241.9" rx="3.3" ry="3.15" fill="rgb(20,240,140)"/>
<ellipse cx="244.9" cy="245.3" rx="3.3" ry="3.15" fill="rgb(0,110,230)"/>
<ellipse cx="238.4" cy="249.7" rx="3.3" ry="3.15" fill="rgb(0,90,255)"/>
<ellipse cx="245.3" cy="247.9" rx="3.3" ry="3.15" fill="rgb(0,130,255)"/>
<ellipse cx="239.0" cy="251.6" rx="3.3" ry="3.15" fill="rgb(255,30,0)"/>
<ellipse cx="250.4" cy="251.9" rx="3.3" ry="3.15" fill="rgb(20,240,150)"/>
<ellipse cx="244.6" cy="251.2" rx="3.3" ry="3.15" fill="rgb(0,130,255)"/>
<ellipse cx="275.0" cy="188.7" rx="3.3" ry="3.15" fill="rgb(0,150,255)"/>
<ellipse cx="279.9" cy="172.5" rx="3.3" ry="3.15" fill="rgb(0,0,170)"/>
<ellipse cx="279.2" cy="175.5" rx="3.3" ry="3.15" fill="rgb(0,0,170)"/>
<ellipse cx="278.3" cy="178.7" rx="3.3" ry="3.15" fill="rgb(0,0,190)"/>
<ellipse cx="277.3" cy="182.0" rx="3.3" ry="3.15" fill="rgb(0,0,240)"/>
<ellipse cx="274.4" cy="191.0" rx="3.3" ry="3.15" fill="rgb(0,0,220)"/>
<ellipse cx="273.7" cy="193.6" rx="3.3" ry="3.15" fill="rgb(0,0,170)"/>
<ellipse cx="272.4" cy="196.2" rx="3.3" ry="3.15" fill="rgb(0,0,170)"/>
<ellipse cx="265.4" cy="194.9" rx="3.3" ry="3.15" fill="rgb(0,0,150)"/>
<ellipse cx="264.4" cy="198.1" rx="3.3" ry="3.15" fill="rgb(0,0,170)"/>
<ellipse cx="263.3" cy="201.3" rx="3.3" ry="3.15" fill="rgb(0,0,190)"/>
<ellipse cx="262.4" cy="204.6" rx="3.3" ry="3.15" fill="rgb(0,0,220)"/>
<ellipse cx="261.1" cy="207.8" rx="3.3" ry="3.15" fill="rgb(0,0,240)"/>
<ellipse cx="260.2" cy="211.0" rx="3.3" ry="3.15" fill="rgb(0,0,220)"/>
<ellipse cx="258.6" cy="215.8" rx="3.3" ry="3.15" fill="rgb(255,120,0)"/>
<ellipse cx="258.9" cy="214.0" rx="3.3" ry="3.15" fill="rgb(0,0,190)"/>
<ellipse cx="257.7" cy="218.4" rx="3.3" ry="3.15" fill="rgb(0,0,240)"/>
<ellipse cx="271.9" cy="226.6" rx="3.3" ry="3.15" fill="rgb(255,215,0)"/>
<ellipse cx="271.9" cy="229.4" rx="3.3" ry="3.15" fill="rgb(255,215,0)"/>
<ellipse cx="271.4" cy="234.9" rx="3.3" ry="3.15" fill="rgb(145,0,0)"/>
<ellipse cx="271.0" cy="237.5" rx="3.3" ry="3.15" fill="rgb(145,0,0)"/>
<ellipse cx="270.5" cy="241.3" rx="3.3" ry="3.15" fill="rgb(0,90,255)"/>
<ellipse cx="270.5" cy="244.3" rx="3.3" ry="3.15" fill="rgb(145,0,0)"/>
<ellipse cx="270.3" cy="249.3" rx="3.3" ry="3.15" fill="rgb(0,90,255)"/>
<ellipse cx="269.9" cy="252.1" rx="3.3" ry="3.15" fill="rgb(0,40,255)"/>
<ellipse cx="270.5" cy="255.7" rx="3.3" ry="3.15" fill="rgb(145,0,0)"/>
<ellipse cx="270.8" cy="260.4" rx="3.3" ry="3.15" fill="rgb(0,0,190)"/>
<ellipse cx="271.1" cy="264.3" rx="3.3" ry="3.15" fill="rgb(170,255,80)"/>
<ellipse cx="271.1" cy="267.0" rx="3.3" ry="3.15" fill="rgb(0,230,255)"/>
<ellipse cx="271.4" cy="269.2" rx="3.3" ry="3.15" fill="rgb(0,150,255)"/>
<ellipse cx="271.6" cy="272.3" rx="3.3" ry="3.15" fill="rgb(145,0,0)"/>
<ellipse cx="271.2" cy="275.6" rx="3.3" ry="3.15" fill="rgb(0,0,220)"/>
<ellipse cx="269.9" cy="278.6" rx="3.3" ry="3.15" fill="rgb(0,0,240)"/>
<ellipse cx="269.9" cy="282.5" rx="3.3" ry="3.15" fill="rgb(0,255,130)"/>
<ellipse cx="270.1" cy="286.2" rx="3.3" ry="3.15" fill="rgb(0,180,255)"/>
<ellipse cx="270.2" cy="290.3" rx="3.3" ry="3.15" fill="rgb(255,120,0)"/>
<ellipse cx="270.2" cy="291.7" rx="3.3" ry="3.15" fill="rgb(0,0,220)"/>
<ellipse cx="270.5" cy="293.0" rx="3.3" ry="3.15" fill="rgb(0,150,255)"/>
<ellipse cx="270.1" cy="295.5" rx="3.3" ry="3.15" fill="rgb(0,0,240)"/>
<ellipse cx="270.5" cy="299.5" rx="3.3" ry="3.15" fill="rgb(0,90,255)"/>
<ellipse cx="278.2" cy="236.0" rx="3.3" ry="3.15" fill="rgb(0,120,255)"/>
<ellipse cx="278.2" cy="239.4" rx="3.3" ry="3.15" fill="rgb(0,120,255)"/>
<ellipse cx="278.0" cy="244.9" rx="3.3" ry="3.15" fill="rgb(145,0,0)"/>
<ellipse cx="278.8" cy="247.1" rx="3.3" ry="3.15" fill="rgb(145,0,0)"/>
<ellipse cx="278.8" cy="249.3" rx="3.3" ry="3.15" fill="rgb(255,60,0)"/>
<ellipse cx="278.5" cy="252.1" rx="3.3" ry="3.15" fill="rgb(255,180,0)"/>
<ellipse cx="278.5" cy="254.6" rx="3.3" ry="3.15" fill="rgb(255,215,0)"/>
<ellipse cx="278.2" cy="260.4" rx="3.3" ry="3.15" fill="rgb(145,0,0)"/>
<ellipse cx="278.2" cy="265.9" rx="3.3" ry="3.15" fill="rgb(0,255,230)"/>
<ellipse cx="278.5" cy="270.9" rx="3.3" ry="3.15" fill="rgb(145,0,0)"/>
<ellipse cx="282.1" cy="279.7" rx="3.3" ry="3.15" fill="rgb(145,0,0)"/>
<ellipse cx="282.1" cy="283.0" rx="3.3" ry="3.15" fill="rgb(145,0,0)"/>
<ellipse cx="282.1" cy="285.8" rx="3.3" ry="3.15" fill="rgb(0,0,200)"/>
<ellipse cx="282.4" cy="289.7" rx="3.3" ry="3.15" fill="rgb(255,70,0)"/>
<ellipse cx="282.7" cy="295.2" rx="3.3" ry="3.15" fill="rgb(0,0,240)"/>
<ellipse cx="283.2" cy="301.9" rx="3.3" ry="3.15" fill="rgb(40,250,210)"/>
<ellipse cx="283.2" cy="305.7" rx="3.3" ry="3.15" fill="rgb(40,250,210)"/>
<ellipse cx="283.2" cy="309.6" rx="3.3" ry="3.15" fill="rgb(0,240,230)"/>
<ellipse cx="283.7" cy="313.3" rx="3.3" ry="3.15" fill="rgb(0,240,230)"/>
<ellipse cx="290.4" cy="314.5" rx="3.3" ry="3.15" fill="rgb(0,180,255)"/>
<ellipse cx="290.4" cy="318.7" rx="3.3" ry="3.15" fill="rgb(255,215,0)"/>
<ellipse cx="290.4" cy="323.3" rx="3.3" ry="3.15" fill="rgb(0,70,255)"/>
<ellipse cx="271.0" cy="327.1" rx="3.3" ry="3.15" fill="rgb(0,240,240)"/>
<ellipse cx="273.2" cy="328.2" rx="3.3" ry="3.15" fill="rgb(0,240,240)"/>
<ellipse cx="275.4" cy="329.4" rx="3.3" ry="3.15" fill="rgb(0,240,240)"/>
<ellipse cx="281.0" cy="337.7" rx="3.3" ry="3.15" fill="rgb(130,240,50)"/>
<ellipse cx="278.5" cy="334.3" rx="3.3" ry="3.15" fill="rgb(255,215,0)"/>
<ellipse cx="287.4" cy="337.4" rx="3.3" ry="3.15" fill="rgb(145,0,0)"/>
<ellipse cx="262.5" cy="325.5" rx="3.3" ry="3.15" fill="rgb(0,40,255)"/>
<ellipse cx="262.5" cy="327.7" rx="3.3" ry="3.15" fill="rgb(200,0,0)"/>
<ellipse cx="262.2" cy="330.7" rx="3.3" ry="3.15" fill="rgb(0,150,255)"/>
<ellipse cx="262.2" cy="334.0" rx="3.3" ry="3.15" fill="rgb(0,220,255)"/>
<ellipse cx="262.2" cy="337.3" rx="3.3" ry="3.15" fill="rgb(0,90,255)"/>
<ellipse cx="261.8" cy="341.0" rx="3.3" ry="3.15" fill="rgb(0,140,255)"/>
<ellipse cx="261.6" cy="343.2" rx="3.3" ry="3.15" fill="rgb(0,60,255)"/>
<ellipse cx="261.6" cy="344.9" rx="3.3" ry="3.15" fill="rgb(255,120,0)"/>
<ellipse cx="261.4" cy="346.8" rx="3.3" ry="3.15" fill="rgb(0,230,240)"/>
<ellipse cx="261.1" cy="349.5" rx="3.3" ry="3.15" fill="rgb(255,190,0)"/>
<ellipse cx="261.1" cy="352.0" rx="3.3" ry="3.15" fill="rgb(30,230,230)"/>
<ellipse cx="260.5" cy="354.8" rx="3.3" ry="3.15" fill="rgb(0,180,255)"/>
<ellipse cx="262.7" cy="356.1" rx="3.3" ry="3.15" fill="rgb(0,40,255)"/>
<ellipse cx="262.9" cy="358.9" rx="3.3" ry="3.15" fill="rgb(0,240,250)"/>
<ellipse cx="262.1" cy="367.0" rx="3.3" ry="3.15" fill="rgb(0,0,220)"/>
<ellipse cx="262.1" cy="369.4" rx="3.3" ry="3.15" fill="rgb(0,0,240)"/>
<ellipse cx="261.9" cy="372.2" rx="3.3" ry="3.15" fill="rgb(0,20,255)"/>
<ellipse cx="261.5" cy="375.1" rx="3.3" ry="3.15" fill="rgb(0,110,255)"/>
<ellipse cx="261.5" cy="378.8" rx="3.3" ry="3.15" fill="rgb(0,40,255)"/>
<ellipse cx="259.1" cy="382.7" rx="3.3" ry="3.15" fill="rgb(0,60,255)"/>
<ellipse cx="252.9" cy="390.4" rx="3.3" ry="3.15" fill="rgb(0,0,190)"/>
<ellipse cx="252.9" cy="393.2" rx="3.3" ry="3.15" fill="rgb(0,0,170)"/>
<ellipse cx="252.9" cy="396.5" rx="3.3" ry="3.15" fill="rgb(0,0,190)"/>
<ellipse cx="252.9" cy="400.4" rx="3.3" ry="3.15" fill="rgb(0,120,255)"/>
<ellipse cx="252.9" cy="403.2" rx="3.3" ry="3.15" fill="rgb(0,0,190)"/>
<ellipse cx="252.9" cy="405.9" rx="3.3" ry="3.15" fill="rgb(0,0,190)"/>
<ellipse cx="252.9" cy="408.7" rx="3.3" ry="3.15" fill="rgb(0,0,190)"/>
</g>
<path d="M101.1 18.8H388.7M101.1 459.0H388.7" fill="none" stroke="#555" stroke-width="1.05"/>
<path d="M101.8 18.8V459.0M388.0 18.8V459.0" fill="none" stroke="#727272" stroke-width="1.5"/>
<path d="M101.8 459.0v-4M101.8 18.8v4M149.5 459.0v-4M149.5 18.8v4M197.2 459.0v-4M197.2 18.8v4M244.9 459.0v-4M244.9 18.8v4M292.6 459.0v-4M292.6 18.8v4M340.3 459.0v-4M340.3 18.8v4M388.0 459.0v-4M388.0 18.8v4M101.8 459.0h4M388.0 459.0h-4M101.8 415.0h4M388.0 415.0h-4M101.8 371.0h4M388.0 371.0h-4M101.8 326.9h4M388.0 326.9h-4M101.8 282.9h4M388.0 282.9h-4M101.8 238.9h4M388.0 238.9h-4M101.8 194.9h4M388.0 194.9h-4M101.8 150.9h4M388.0 150.9h-4M101.8 106.8h4M388.0 106.8h-4M101.8 62.8h4M388.0 62.8h-4M101.8 18.8h4M388.0 18.8h-4" stroke="#444" stroke-width="1" fill="none"/>
<g font-size="24.3" text-anchor="middle">
<text transform="translate(101.4,491.3) scale(1.045,1)">-30</text>
<text transform="translate(149.1,491.3) scale(1.045,1)">-20</text>
<text transform="translate(196.8,491.3) scale(1.045,1)">-10</text>
<text transform="translate(244.5,491.3) scale(1.045,1)">0</text>
<text transform="translate(292.2,491.3) scale(1.045,1)">10</text>
<text transform="translate(339.9,491.3) scale(1.045,1)">20</text>
<text transform="translate(387.6,491.3) scale(1.045,1)">30</text>
</g>
<g font-size="24.3" text-anchor="end">
<text transform="translate(91.9,467.7) scale(1.045,1)">-50</text>
<text transform="translate(91.9,423.7) scale(1.045,1)">-40</text>
<text transform="translate(91.9,379.7) scale(1.045,1)">-30</text>
<text transform="translate(91.9,335.6) scale(1.045,1)">-20</text>
<text transform="translate(91.9,291.6) scale(1.045,1)">-10</text>
<text transform="translate(91.9,247.6) scale(1.045,1)">0</text>
<text transform="translate(91.9,203.6) scale(1.045,1)">10</text>
<text transform="translate(91.9,159.6) scale(1.045,1)">20</text>
<text transform="translate(91.9,115.5) scale(1.045,1)">30</text>
<text transform="translate(91.9,71.5) scale(1.045,1)">40</text>
<text transform="translate(91.9,27.5) scale(1.045,1)">50</text>
</g>
<text transform="translate(201.6,524.5) scale(1.13,1)" font-size="25">x/R</text>
<text transform="translate(243.6,538.3) scale(1.085,1)" font-size="20.5">max</text>
<text transform="translate(29.5,278.4) scale(1.085,1) rotate(-90)" font-size="25">y/R<tspan font-size="21" dy="13.9" dx="1.6">max</tspan></text>
<rect x="422.0" y="452.12" width="40.2" height="7.38" shape-rendering="crispEdges" fill="rgb(0,0,156)"/>
<rect x="422.0" y="445.24" width="40.2" height="7.38" shape-rendering="crispEdges" fill="rgb(0,0,173)"/>
<rect x="422.0" y="438.37" width="40.2" height="7.38" shape-rendering="crispEdges" fill="rgb(0,0,188)"/>
<rect x="422.0" y="431.49" width="40.2" height="7.38" shape-rendering="crispEdges" fill="rgb(0,0,201)"/>
<rect x="422.0" y="424.61" width="40.2" height="7.38" shape-rendering="crispEdges" fill="rgb(0,0,216)"/>
<rect x="422.0" y="417.73" width="40.2" height="7.38" shape-rendering="crispEdges" fill="rgb(0,0,228)"/>
<rect x="422.0" y="410.85" width="40.2" height="7.38" shape-rendering="crispEdges" fill="rgb(0,0,240)"/>
<rect x="422.0" y="403.98" width="40.2" height="7.38" shape-rendering="crispEdges" fill="rgb(0,0,250)"/>
<rect x="422.0" y="397.10" width="40.2" height="7.38" shape-rendering="crispEdges" fill="rgb(0,5,246)"/>
<rect x="422.0" y="390.22" width="40.2" height="7.38" shape-rendering="crispEdges" fill="rgb(0,19,244)"/>
<rect x="422.0" y="383.34" width="40.2" height="7.38" shape-rendering="crispEdges" fill="rgb(0,35,243)"/>
<rect x="422.0" y="376.46" width="40.2" height="7.38" shape-rendering="crispEdges" fill="rgb(0,51,243)"/>
<rect x="422.0" y="369.58" width="40.2" height="7.38" shape-rendering="crispEdges" fill="rgb(0,66,246)"/>
<rect x="422.0" y="362.71" width="40.2" height="7.38" shape-rendering="crispEdges" fill="rgb(0,82,248)"/>
<rect x="422.0" y="355.83" width="40.2" height="7.38" shape-rendering="crispEdges" fill="rgb(0,98,250)"/>
<rect x="422.0" y="348.95" width="40.2" height="7.38" shape-rendering="crispEdges" fill="rgb(0,116,252)"/>
<rect x="422.0" y="342.07" width="40.2" height="7.38" shape-rendering="crispEdges" fill="rgb(0,133,252)"/>
<rect x="422.0" y="335.19" width="40.2" height="7.38" shape-rendering="crispEdges" fill="rgb(0,149,252)"/>
<rect x="422.0" y="328.32" width="40.2" height="7.38" shape-rendering="crispEdges" fill="rgb(0,165,252)"/>
<rect x="422.0" y="321.44" width="40.2" height="7.38" shape-rendering="crispEdges" fill="rgb(0,181,252)"/>
<rect x="422.0" y="314.56" width="40.2" height="7.38" shape-rendering="crispEdges" fill="rgb(0,197,252)"/>
<rect x="422.0" y="307.68" width="40.2" height="7.38" shape-rendering="crispEdges" fill="rgb(0,215,252)"/>
<rect x="422.0" y="300.80" width="40.2" height="7.38" shape-rendering="crispEdges" fill="rgb(0,233,253)"/>
<rect x="422.0" y="293.93" width="40.2" height="7.38" shape-rendering="crispEdges" fill="rgb(0,252,254)"/>
<rect x="422.0" y="287.05" width="40.2" height="7.38" shape-rendering="crispEdges" fill="rgb(0,253,241)"/>
<rect x="422.0" y="280.17" width="40.2" height="7.38" shape-rendering="crispEdges" fill="rgb(0,251,226)"/>
<rect x="422.0" y="273.29" width="40.2" height="7.38" shape-rendering="crispEdges" fill="rgb(0,250,208)"/>
<rect x="422.0" y="266.41" width="40.2" height="7.38" shape-rendering="crispEdges" fill="rgb(0,249,189)"/>
<rect x="422.0" y="259.53" width="40.2" height="7.38" shape-rendering="crispEdges" fill="rgb(0,248,170)"/>
<rect x="422.0" y="252.66" width="40.2" height="7.38" shape-rendering="crispEdges" fill="rgb(0,248,152)"/>
<rect x="422.0" y="245.78" width="40.2" height="7.38" shape-rendering="crispEdges" fill="rgb(0,248,133)"/>
<rect x="422.0" y="238.90" width="40.2" height="7.38" shape-rendering="crispEdges" fill="rgb(0,247,118)"/>
<rect x="422.0" y="232.02" width="40.2" height="7.38" shape-rendering="crispEdges" fill="rgb(0,246,103)"/>
<rect x="422.0" y="225.14" width="40.2" height="7.38" shape-rendering="crispEdges" fill="rgb(96,246,67)"/>
<rect x="422.0" y="218.27" width="40.2" height="7.38" shape-rendering="crispEdges" fill="rgb(115,248,48)"/>
<rect x="422.0" y="211.39" width="40.2" height="7.38" shape-rendering="crispEdges" fill="rgb(139,251,24)"/>
<rect x="422.0" y="204.51" width="40.2" height="7.38" shape-rendering="crispEdges" fill="rgb(163,253,8)"/>
<rect x="422.0" y="197.63" width="40.2" height="7.38" shape-rendering="crispEdges" fill="rgb(189,255,0)"/>
<rect x="422.0" y="190.75" width="40.2" height="7.38" shape-rendering="crispEdges" fill="rgb(218,255,0)"/>
<rect x="422.0" y="183.88" width="40.2" height="7.38" shape-rendering="crispEdges" fill="rgb(249,255,0)"/>
<rect x="422.0" y="177.00" width="40.2" height="7.38" shape-rendering="crispEdges" fill="rgb(255,242,0)"/>
<rect x="422.0" y="170.12" width="40.2" height="7.38" shape-rendering="crispEdges" fill="rgb(255,226,0)"/>
<rect x="422.0" y="163.24" width="40.2" height="7.38" shape-rendering="crispEdges" fill="rgb(255,210,0)"/>
<rect x="422.0" y="156.36" width="40.2" height="7.38" shape-rendering="crispEdges" fill="rgb(255,194,0)"/>
<rect x="422.0" y="149.48" width="40.2" height="7.38" shape-rendering="crispEdges" fill="rgb(255,180,0)"/>
<rect x="422.0" y="142.61" width="40.2" height="7.38" shape-rendering="crispEdges" fill="rgb(255,166,0)"/>
<rect x="422.0" y="135.73" width="40.2" height="7.38" shape-rendering="crispEdges" fill="rgb(255,152,0)"/>
<rect x="422.0" y="128.85" width="40.2" height="7.38" shape-rendering="crispEdges" fill="rgb(255,142,0)"/>
<rect x="422.0" y="121.97" width="40.2" height="7.38" shape-rendering="crispEdges" fill="rgb(255,133,0)"/>
<rect x="422.0" y="115.09" width="40.2" height="7.38" shape-rendering="crispEdges" fill="rgb(255,122,0)"/>
<rect x="422.0" y="108.22" width="40.2" height="7.38" shape-rendering="crispEdges" fill="rgb(253,106,0)"/>
<rect x="422.0" y="101.34" width="40.2" height="7.38" shape-rendering="crispEdges" fill="rgb(252,88,0)"/>
<rect x="422.0" y="94.46" width="40.2" height="7.38" shape-rendering="crispEdges" fill="rgb(252,70,0)"/>
<rect x="422.0" y="87.58" width="40.2" height="7.38" shape-rendering="crispEdges" fill="rgb(252,51,0)"/>
<rect x="422.0" y="80.70" width="40.2" height="7.38" shape-rendering="crispEdges" fill="rgb(253,32,0)"/>
<rect x="422.0" y="73.82" width="40.2" height="7.38" shape-rendering="crispEdges" fill="rgb(255,16,0)"/>
<rect x="422.0" y="66.95" width="40.2" height="7.38" shape-rendering="crispEdges" fill="rgb(254,8,0)"/>
<rect x="422.0" y="60.07" width="40.2" height="7.38" shape-rendering="crispEdges" fill="rgb(252,5,0)"/>
<rect x="422.0" y="53.19" width="40.2" height="7.38" shape-rendering="crispEdges" fill="rgb(242,1,0)"/>
<rect x="422.0" y="46.31" width="40.2" height="7.38" shape-rendering="crispEdges" fill="rgb(224,0,0)"/>
<rect x="422.0" y="39.43" width="40.2" height="7.38" shape-rendering="crispEdges" fill="rgb(207,0,0)"/>
<rect x="422.0" y="32.56" width="40.2" height="7.38" shape-rendering="crispEdges" fill="rgb(193,0,0)"/>
<rect x="422.0" y="25.68" width="40.2" height="7.38" shape-rendering="crispEdges" fill="rgb(175,0,0)"/>
<rect x="422.0" y="18.80" width="40.2" height="7.38" shape-rendering="crispEdges" fill="rgb(157,0,0)"/>
<rect x="422.0" y="18.8" width="40.2" height="440.2" fill="none" stroke="#333" stroke-width="0.8"/>
<g font-size="21.9">
<text transform="translate(470.4,467.2) scale(1.03,1)">0</text>
<text transform="translate(470.4,393.8) scale(1.03,1)">0.5</text>
<text transform="translate(470.4,320.5) scale(1.03,1)">1</text>
<text transform="translate(470.4,247.1) scale(1.03,1)">1.5</text>
<text transform="translate(470.4,173.7) scale(1.03,1)">2</text>
<text transform="translate(470.4,100.4) scale(1.03,1)">2.5</text>
<text transform="translate(470.4,27.0) scale(1.03,1)">3</text>
<text transform="translate(495.6,467.2) scale(1.07,1)">mm</text>
</g>
<path d="M462.2 385.6h-4.5M462.2 312.3h-4.5M462.2 238.9h-4.5M462.2 165.5h-4.5M462.2 92.2h-4.5" stroke="#333" stroke-width="1" fill="none"/>
</svg></body></html>
